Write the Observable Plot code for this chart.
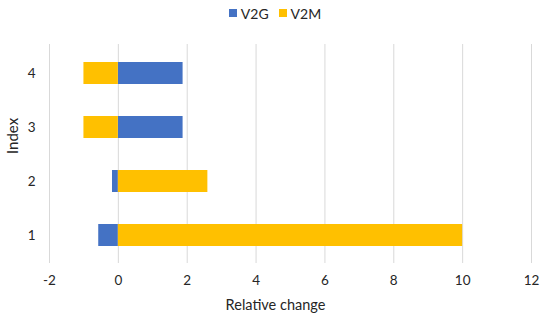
<!DOCTYPE html>
<html>
<head>
<meta charset="utf-8">
<script src="https://cdn.jsdelivr.net/npm/d3@7"></script>
<script src="https://cdn.jsdelivr.net/npm/@observablehq/plot@0.6"></script>
<style>
  html, body { margin: 0; padding: 0; background: #fff; }
  body { width: 550px; height: 323px; overflow: hidden; font-family: Lato, "Open Sans", sans-serif; }
  #legend { height: 26px; display: flex; justify-content: center; align-items: center; gap: 10px; font-size: 14px; color: #262626; }
  .item { display: flex; align-items: center; gap: 4px; }
  .sw { width: 8px; height: 8px; display: inline-block; }
</style>
</head>
<body>
<div id="legend"></div>
<div id="chart"></div>
<script>
const categories = ["1", "2", "3", "4"];
const seriesNames = ["V2G", "V2M"];
const v2g = [-0.57, -0.17, 1.88, 1.88];
const v2m = [10, 2.6, -1, -1];
const xTicks = [-2, 0, 2, 4, 6, 8, 10, 12];
const colors = ["#4472C4", "#FFC000"];

const data = [];
categories.forEach((c, i) => {
  data.push({index: c, series: "V2G", value: v2g[i]});
  data.push({index: c, series: "V2M", value: v2m[i]});
});

const legend = document.getElementById("legend");
seriesNames.forEach((s, i) => {
  const it = document.createElement("div");
  it.className = "item";
  it.innerHTML = `<span class="sw" style="background:${colors[i]}"></span><span>${s}</span>`;
  legend.appendChild(it);
});

const chart = Plot.plot({
  width: 550,
  height: 297,
  marginTop: 18,
  marginBottom: 60,
  marginLeft: 49,
  marginRight: 19,
  style: {fontFamily: "Lato, 'Open Sans', sans-serif", fontSize: "13px", color: "#262626"},
  x: {domain: [-2, 12], ticks: xTicks, label: null},
  y: {domain: categories.slice().reverse(), paddingInner: 0.6, paddingOuter: 0.3, label: null},
  color: {domain: seriesNames, range: colors},
  marks: [
    Plot.gridX(xTicks, {stroke: "#d9d9d9", strokeOpacity: 1, strokeWidth: 1}),
    Plot.barX(data, Plot.stackX({y: "index", x: "value", fill: "series", order: seriesNames})),
    Plot.axisX({ticks: xTicks, tickSize: 0, tickPadding: 12, label: null, fontSize: 13.5, tickFormat: d => String(d)}),
    Plot.axisY({tickSize: 0, tickPadding: 14, label: null, fontSize: 13.5}),
    Plot.text(["Index"], {frameAnchor: "left", dx: -36, rotate: -90, fontSize: 15, fill: "#262626"}),
    Plot.text(["Relative change"], {frameAnchor: "bottom", dy: 46, dx: -15, fontSize: 14.5, fill: "#262626"})
  ]
});
document.getElementById("chart").appendChild(chart);
</script>
</body>
</html>
